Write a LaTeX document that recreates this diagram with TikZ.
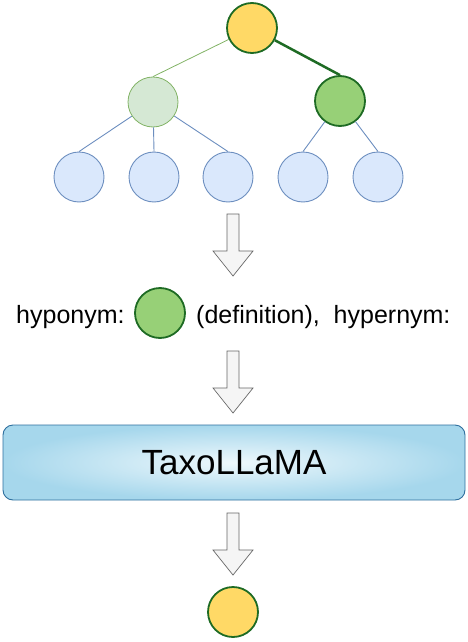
\documentclass[tikz,border=0pt]{standalone}
\usepackage{fontspec}
\setmainfont{Liberation Sans}
\usetikzlibrary{positioning}

\definecolor{rootyellow}{HTML}{FFD966}
\definecolor{darkgreen}{HTML}{1E6B24}
\definecolor{midgreen}{HTML}{97D077}
\definecolor{palegreen}{HTML}{D5E8D4}
\definecolor{paleline}{HTML}{82B366}
\definecolor{leafblue}{HTML}{DAE8FC}
\definecolor{leafline}{HTML}{6C8EBF}
\definecolor{boxblue}{HTML}{A6D7EC}
\definecolor{boxcore}{HTML}{EEF8FC}
\definecolor{boxline}{HTML}{2E6F9E}

\tikzset{
  concept/.style={circle, minimum size=50pt, inner sep=0pt},
  rootnode/.style={concept, fill=rootyellow, draw=darkgreen, line width=1.8pt},
  hypernode/.style={concept, fill=midgreen, draw=darkgreen, line width=1.8pt},
  palenode/.style={concept, fill=palegreen, draw=paleline, line width=0.8pt},
  leafnode/.style={concept, fill=leafblue, draw=leafline, line width=0.9pt},
  leafedge/.style={draw=leafline, line width=0.9pt},
  blockarrow/.style={draw=gray!80!black, fill=gray!8, line width=0.7pt, line join=miter},
  llmbox/.style={rectangle, rounded corners=10pt, draw=boxline, line width=0.9pt,
    inner color=boxcore, outer color=boxblue, minimum width=462pt, minimum height=75pt},
  prompt/.style={font=\fontsize{25}{29}\selectfont, inner sep=0pt}
}

\begin{document}
\begin{tikzpicture}[x=1pt, y=-1pt]
  \useasboundingbox (0,0) rectangle (468,642);

  % The taxonomy tree
  \node[rootnode] (root) at (252,28) {};
  \node[palenode] (pale) at (153,102) {};
  \node[hypernode] (hyper) at (340,101) {};
  \foreach \x [count=\i] in {79,154,228,303,378}
    \node[leafnode] (leaf\i) at (\x,177) {};

  \draw[paleline, line width=0.8pt] (root) -- (pale.north);
  \draw[darkgreen, line width=2.5pt] (root) -- (hyper.north);
  \foreach \i in {1,2,3}
    \draw[leafedge] (pale) -- (leaf\i.north);
  \foreach \i in {4,5}
    \draw[leafedge] (hyper) -- (leaf\i.north);

  % Block arrows going down
  \foreach \t [count=\i] in {214,351,513}
    \coordinate (arrow\i) at (233,\t);
  \foreach \i in {1,2,3}
    \draw[blockarrow] (arrow\i) ++(-6,0) -- ++(12,0) -- ++(0,37) -- ++(14,0)
      -- ++(-20,25) -- ++(-20,-25) -- ++(14,0) -- cycle;

  % The prompt line
  \node[prompt, anchor=base west] (hypo) at (16,323) {hyponym:};
  \node[hypernode] (query) at (160,313) {};
  \node[prompt, anchor=base west] (defn) at (196,323) {(definition),\ \ hypernym:};

  % The model
  \node[llmbox, font=\fontsize{35}{40}\selectfont] (llm) at (234,462.5) {TaxoLLaMA};

  % The answer
  \node[rootnode] (answer) at (233,612) {};
\end{tikzpicture}
\end{document}
